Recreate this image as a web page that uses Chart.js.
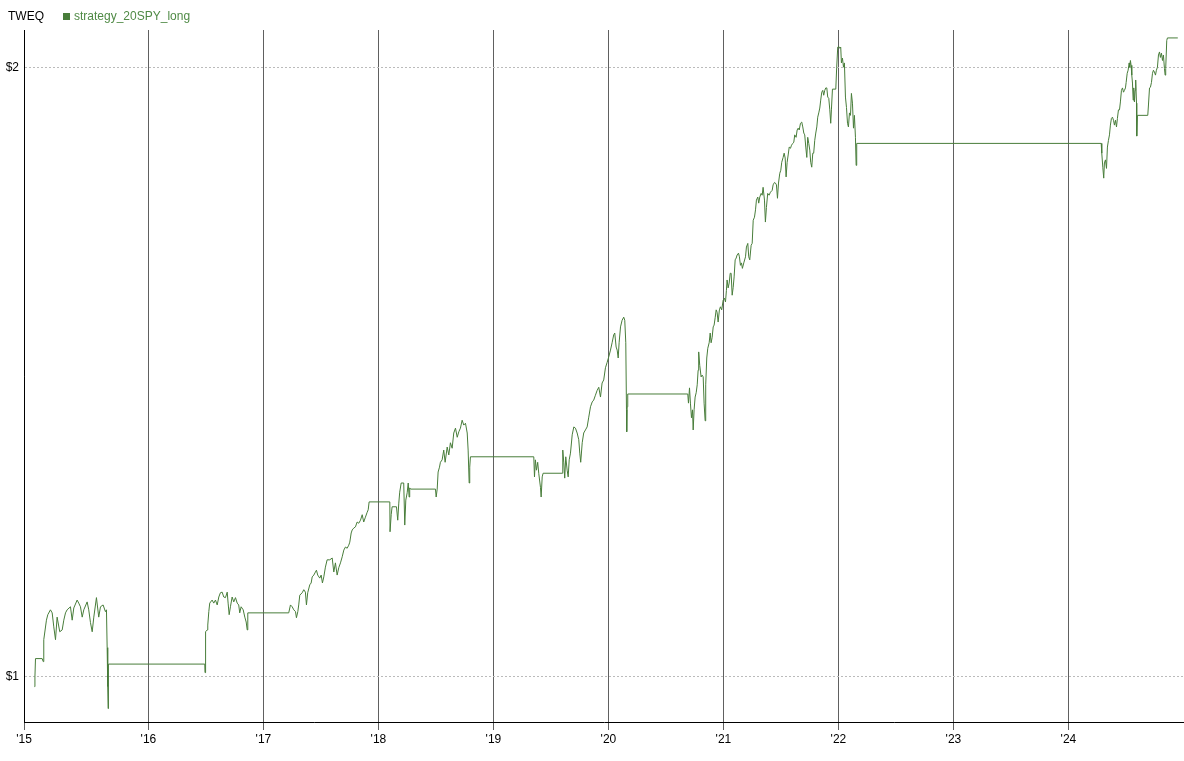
<!DOCTYPE html>
<html>
<head>
<meta charset="utf-8">
<script src="https://cdn.jsdelivr.net/npm/chart.js@4/dist/chart.umd.min.js"></script>
<style>
  body { margin: 0; background: #fff; }
  #wrap { position: relative; width: 1184px; height: 761px; font-family: Arial, "Liberation Sans", sans-serif; }
  #hdr span { position: absolute; top: 9px; font-size: 12px; line-height: 14px; white-space: nowrap; }
  #chart { position: absolute; left: 0; top: 0; }
</style>
</head>
<body>
<div id="wrap">
  <canvas id="chart" width="1184" height="761"></canvas>
  <div id="hdr">
    <span id="title" style="left:8px;color:#000">TWEQ</span>
    <span id="swatch" style="left:63px;top:13px;width:7px;height:7px"></span>
    <span id="seriesLabel" style="left:74px"></span>
  </div>
</div>
<script>
const seriesName = 'strategy_20SPY_long';
const lineColor = '#487d3a';

// decimal year of each point
const dates = [
  2015.009, 2015.013, 2015.018, 2015.076, 2015.085, 2015.090, 2015.113, 2015.125, 2015.148, 2015.163,
  2015.177, 2015.192, 2015.206, 2015.229, 2015.250, 2015.264, 2015.279, 2015.293, 2015.322, 2015.337,
  2015.351, 2015.380, 2015.394, 2015.409, 2015.424, 2015.438, 2015.467, 2015.481, 2015.496, 2015.511,
  2015.525, 2015.548, 2015.568, 2015.583, 2015.606, 2015.626, 2015.635, 2015.641, 2015.646, 2015.650,
  2015.652, 2016.490,
  2016.492, 2016.495, 2016.499, 2016.511, 2016.516, 2016.525, 2016.533, 2016.554, 2016.568, 2016.583,
  2016.598, 2016.612, 2016.626, 2016.641, 2016.655, 2016.670, 2016.685, 2016.693, 2016.702, 2016.713,
  2016.728, 2016.742, 2016.757, 2016.772, 2016.785, 2016.794, 2016.806, 2016.824, 2016.838, 2016.850,
  2016.859, 2016.864, 2017.220,
  2017.235, 2017.250, 2017.264, 2017.279, 2017.287, 2017.299, 2017.307, 2017.316, 2017.337, 2017.351,
  2017.365, 2017.374, 2017.385, 2017.403, 2017.415, 2017.424, 2017.438, 2017.452, 2017.461, 2017.472,
  2017.490, 2017.502, 2017.513, 2017.525, 2017.539, 2017.554, 2017.577, 2017.598, 2017.612, 2017.626,
  2017.641, 2017.655, 2017.670, 2017.685, 2017.699, 2017.713, 2017.728, 2017.742, 2017.751, 2017.763,
  2017.772, 2017.785, 2017.800, 2017.815, 2017.829, 2017.844, 2017.859, 2017.872, 2017.887, 2017.902,
  2017.911, 2017.919, 2018.099,
  2018.101, 2018.111, 2018.119, 2018.157, 2018.168, 2018.177, 2018.185, 2018.198, 2018.220, 2018.229,
  2018.238, 2018.250, 2018.259, 2018.267, 2018.272, 2018.279, 2018.496, 2018.502, 2018.511, 2018.519,
  2018.531, 2018.539, 2018.554, 2018.568, 2018.580, 2018.598, 2018.612, 2018.626, 2018.641, 2018.655,
  2018.670, 2018.685, 2018.699, 2018.713, 2018.728, 2018.742, 2018.757, 2018.772, 2018.780, 2018.789,
  2018.794, 2018.800, 2019.351,
  2019.357, 2019.365, 2019.374, 2019.385, 2019.394, 2019.409, 2019.415, 2019.424, 2019.432, 2019.598,
  2019.603, 2019.612, 2019.620, 2019.629, 2019.641, 2019.650, 2019.659, 2019.670, 2019.685, 2019.699,
  2019.713, 2019.728, 2019.742, 2019.751, 2019.759, 2019.772, 2019.785, 2019.800, 2019.815, 2019.829,
  2019.844, 2019.859, 2019.872, 2019.887, 2019.902, 2019.916, 2019.931, 2019.945, 2019.959, 2019.974,
  2019.989, 2020.003, 2020.018, 2020.032, 2020.046, 2020.055, 2020.067, 2020.076, 2020.085, 2020.093,
  2020.105, 2020.119, 2020.133, 2020.142, 2020.151, 2020.157, 2020.159, 2020.163, 2020.168, 2020.690,
  2020.696, 2020.705, 2020.713, 2020.722, 2020.731, 2020.737, 2020.745, 2020.754, 2020.763, 2020.772,
  2020.780, 2020.785, 2020.794, 2020.806, 2020.815, 2020.824, 2020.832, 2020.841, 2020.846, 2020.855,
  2020.864, 2020.876, 2020.885, 2020.893, 2020.902, 2020.911, 2020.919, 2020.928, 2020.937, 2020.945,
  2020.954, 2020.965, 2020.974, 2020.985, 2020.998, 2021.009, 2021.018, 2021.026, 2021.032, 2021.041,
  2021.050, 2021.059, 2021.067, 2021.076, 2021.085, 2021.093, 2021.102, 2021.111, 2021.119, 2021.131,
  2021.139, 2021.148, 2021.157, 2021.165, 2021.177, 2021.192, 2021.200, 2021.212, 2021.220, 2021.229,
  2021.241, 2021.250, 2021.259, 2021.270, 2021.279, 2021.287, 2021.299, 2021.307, 2021.316, 2021.328,
  2021.337, 2021.345, 2021.357, 2021.365, 2021.374, 2021.385, 2021.397, 2021.409, 2021.424, 2021.432,
  2021.444, 2021.452, 2021.461, 2021.470, 2021.479, 2021.490, 2021.499, 2021.507, 2021.519, 2021.528,
  2021.537, 2021.545, 2021.554, 2021.563, 2021.572, 2021.583, 2021.592, 2021.603, 2021.612, 2021.620,
  2021.632, 2021.641, 2021.650, 2021.659, 2021.670, 2021.681, 2021.690, 2021.699, 2021.707, 2021.716,
  2021.725, 2021.733, 2021.742, 2021.751, 2021.759, 2021.768, 2021.777, 2021.785, 2021.794, 2021.803,
  2021.812, 2021.820, 2021.829, 2021.838, 2021.846, 2021.855, 2021.864, 2021.872, 2021.881, 2021.890,
  2021.899, 2021.907, 2021.916, 2021.925, 2021.933, 2021.939, 2021.948, 2021.977, 2021.985, 2021.994,
  2022.003, 2022.012, 2022.020, 2022.026, 2022.035, 2022.044, 2022.052, 2022.061, 2022.070, 2022.079,
  2022.087, 2022.096, 2022.105, 2022.113, 2022.122, 2022.131, 2022.139, 2022.148, 2022.154, 2022.159,
  2024.285,
  2024.290, 2024.299, 2024.307, 2024.313, 2024.322, 2024.331, 2024.339, 2024.348, 2024.357, 2024.365,
  2024.374, 2024.383, 2024.392, 2024.400, 2024.409, 2024.418, 2024.426, 2024.435, 2024.444, 2024.452,
  2024.461, 2024.470, 2024.479, 2024.487, 2024.496, 2024.502, 2024.511, 2024.519, 2024.528, 2024.533,
  2024.539, 2024.545, 2024.551, 2024.557, 2024.563, 2024.568, 2024.574, 2024.580, 2024.585, 2024.592,
  2024.594, 2024.600, 2024.690, 2024.696, 2024.705, 2024.713, 2024.722, 2024.731, 2024.739, 2024.748,
  2024.757, 2024.765, 2024.774, 2024.783, 2024.792, 2024.800, 2024.809, 2024.818, 2024.826, 2024.835,
  2024.841, 2024.846, 2024.855, 2024.861, 2024.951
];

// equity in dollars
const equity = [
  0.984, 1.000, 1.030, 1.030, 1.025, 1.061, 1.093, 1.102, 1.110, 1.105,
  1.082, 1.061, 1.098, 1.074, 1.077, 1.093, 1.105, 1.110, 1.115, 1.093,
  1.113, 1.126, 1.121, 1.115, 1.098, 1.110, 1.123, 1.110, 1.089, 1.074,
  1.098, 1.130, 1.098, 1.115, 1.118, 1.107, 1.110, 1.048, 0.984, 0.948,
  1.021, 1.021,
  1.007, 1.044, 1.074, 1.077, 1.085, 1.107, 1.121, 1.126, 1.121, 1.126,
  1.118, 1.131, 1.138, 1.139, 1.131, 1.130, 1.139, 1.121, 1.102, 1.115,
  1.131, 1.123, 1.130, 1.121, 1.118, 1.105, 1.115, 1.110, 1.098, 1.090,
  1.077, 1.105, 1.105,
  1.118, 1.115, 1.110, 1.107, 1.097, 1.107, 1.118, 1.134, 1.138, 1.143,
  1.139, 1.118, 1.138, 1.151, 1.154, 1.164, 1.167, 1.172, 1.175, 1.167,
  1.162, 1.167, 1.154, 1.164, 1.180, 1.192, 1.192, 1.195, 1.172, 1.187,
  1.167, 1.179, 1.187, 1.197, 1.208, 1.213, 1.211, 1.216, 1.221, 1.236,
  1.241, 1.244, 1.246, 1.254, 1.252, 1.257, 1.266, 1.254, 1.262, 1.270,
  1.274, 1.287, 1.287,
  1.238, 1.266, 1.279, 1.279, 1.257, 1.285, 1.303, 1.318, 1.318, 1.249,
  1.290, 1.302, 1.318, 1.295, 1.310, 1.308, 1.308, 1.295, 1.308, 1.336,
  1.344, 1.352, 1.356, 1.372, 1.352, 1.377, 1.364, 1.384, 1.375, 1.400,
  1.408, 1.393, 1.402, 1.408, 1.421, 1.413, 1.416, 1.400, 1.372, 1.318,
  1.344, 1.361, 1.361,
  1.328, 1.356, 1.339, 1.352, 1.334, 1.311, 1.295, 1.328, 1.334, 1.334,
  1.372, 1.351, 1.326, 1.361, 1.339, 1.328, 1.356, 1.367, 1.397, 1.410,
  1.408, 1.400, 1.389, 1.367, 1.352, 1.384, 1.400, 1.405, 1.410, 1.426,
  1.443, 1.451, 1.454, 1.462, 1.470, 1.475, 1.459, 1.482, 1.487, 1.507,
  1.516, 1.525, 1.536, 1.548, 1.561, 1.564, 1.541, 1.536, 1.523, 1.548,
  1.574, 1.585, 1.590, 1.585, 1.548, 1.438, 1.402, 1.443, 1.464, 1.464,
  1.449, 1.474, 1.449, 1.425, 1.438, 1.405, 1.438, 1.459, 1.466, 1.479,
  1.503, 1.533, 1.511, 1.492, 1.495, 1.492, 1.449, 1.420, 1.479, 1.523,
  1.539, 1.548, 1.564, 1.548, 1.557, 1.574, 1.577, 1.589, 1.602, 1.598,
  1.582, 1.602, 1.607, 1.602, 1.618, 1.621, 1.615, 1.634, 1.651, 1.638,
  1.646, 1.662, 1.662, 1.626, 1.639, 1.656, 1.684, 1.687, 1.692, 1.695,
  1.689, 1.675, 1.679, 1.670, 1.679, 1.689, 1.705, 1.711, 1.689, 1.684,
  1.708, 1.711, 1.749, 1.754, 1.766, 1.782, 1.787, 1.777, 1.787, 1.793,
  1.790, 1.803, 1.782, 1.746, 1.770, 1.793, 1.790, 1.795, 1.798, 1.807,
  1.811, 1.810, 1.807, 1.785, 1.810, 1.826, 1.831, 1.844, 1.852, 1.859,
  1.851, 1.820, 1.844, 1.856, 1.869, 1.867, 1.872, 1.875, 1.877, 1.889,
  1.885, 1.897, 1.900, 1.897, 1.908, 1.910, 1.902, 1.892, 1.889, 1.869,
  1.852, 1.885, 1.875, 1.864, 1.844, 1.836, 1.859, 1.859, 1.880, 1.892,
  1.902, 1.918, 1.925, 1.933, 1.946, 1.959, 1.962, 1.954, 1.962, 1.966,
  1.966, 1.951, 1.949, 1.930, 1.908, 1.930, 1.964, 1.964, 2.000, 2.033,
  2.034, 2.031, 2.033, 2.007, 2.015, 2.000, 2.007, 1.951, 1.934, 1.908,
  1.902, 1.925, 1.921, 1.957, 1.941, 1.900, 1.921, 1.885, 1.839, 1.875,
  1.875,
  1.859, 1.836, 1.818, 1.843, 1.848, 1.834, 1.869, 1.880, 1.889, 1.905,
  1.916, 1.918, 1.913, 1.905, 1.913, 1.902, 1.916, 1.930, 1.930, 1.943,
  1.962, 1.966, 1.959, 1.962, 1.966, 1.975, 1.990, 1.995, 2.007, 2.000,
  2.011, 2.003, 1.987, 1.974, 1.946, 1.966, 1.943, 1.962, 1.979, 1.941,
  1.887, 1.921, 1.921, 1.938, 1.966, 1.967, 1.975, 1.990, 1.995, 1.992,
  1.987, 1.995, 2.000, 2.020, 2.025, 2.016, 2.023, 2.011, 2.020, 1.998,
  1.987, 1.998, 2.044, 2.048, 2.048
];

// the axis opens a little before 2015; its first label sits at the left edge
const axisStart = 2014.918;
const axisEnd = 2025.005;
const yearTicks = [axisStart, 2016, 2017, 2018, 2019, 2020, 2021, 2022, 2023, 2024];
const yearLabels = ["'15", "'16", "'17", "'18", "'19", "'20", "'21", "'22", "'23", "'24"];
const priceTicks = [1, 2];
const priceLabels = ['$1', '$2'];

document.getElementById('seriesLabel').textContent = seriesName;
document.getElementById('seriesLabel').style.color = '#4f8a45';
document.getElementById('swatch').style.background = lineColor;

const axisFont = { family: 'Arial, "Liberation Sans", sans-serif', size: 12 };

new Chart(document.getElementById('chart'), {
  type: 'line',
  data: {
    datasets: [{
      label: seriesName,
      data: dates.map((d, i) => ({ x: d, y: equity[i] })),
      borderColor: lineColor,
      borderWidth: 1,
      pointRadius: 0,
      tension: 0,
      fill: false
    }]
  },
  options: {
    responsive: false,
    animation: false,
    layout: { padding: { top: 30, left: 0, right: 0, bottom: 0 } },
    plugins: { legend: { display: false }, tooltip: { enabled: false } },
    scales: {
      x: {
        type: 'linear',
        min: axisStart,
        max: axisEnd,
        afterBuildTicks: s => { s.ticks = yearTicks.map(v => ({ value: v })); },
        afterFit: s => { s.height = 39; },
        ticks: {
          autoSkip: false, maxRotation: 0, padding: 2, color: '#000', font: axisFont,
          callback: (v, i) => yearLabels[i]
        },
        grid: { color: '#606060', lineWidth: 1, tickLength: 8 },
        border: { color: '#000', width: 1 }
      },
      y: {
        min: 0.926,
        max: 2.061,
        afterBuildTicks: s => { s.ticks = priceTicks.map(v => ({ value: v })); },
        afterFit: s => { s.width = 24; },
        ticks: {
          padding: 5, color: '#000', font: axisFont,
          callback: (v, i) => priceLabels[i]
        },
        grid: { color: '#bbb', lineWidth: 1, drawTicks: false },
        border: { color: '#000', width: 1, dash: [2, 2] }
      }
    }
  }
});
</script>
</body>
</html>
